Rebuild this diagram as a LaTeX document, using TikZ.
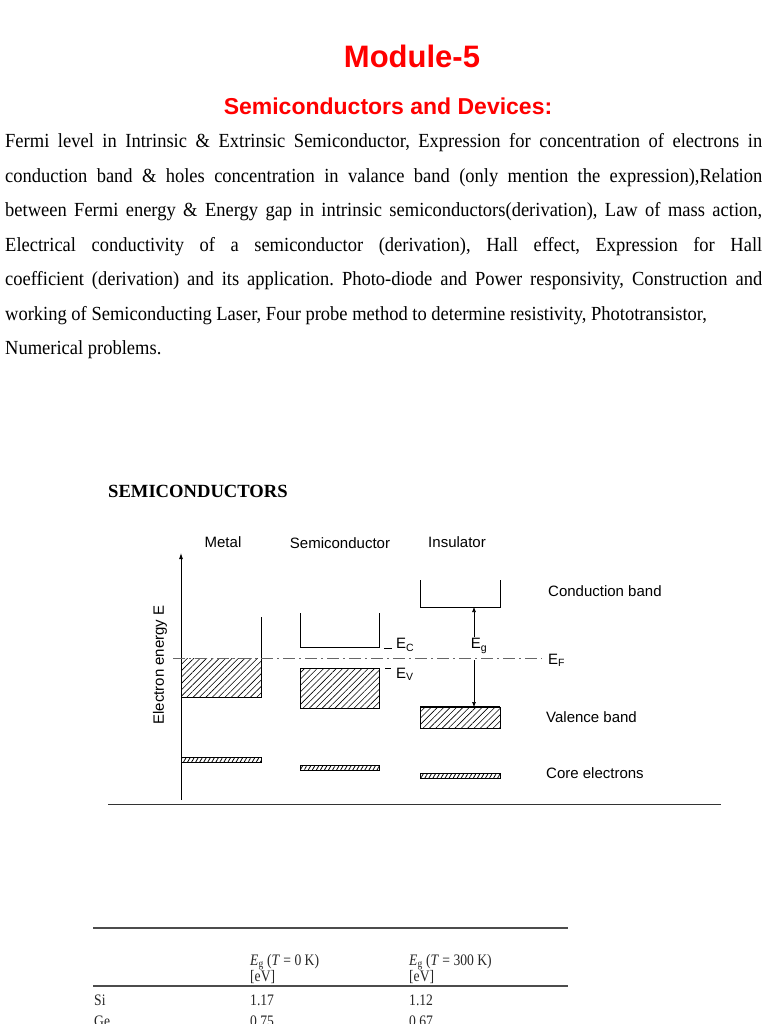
\documentclass[tikz,border=0pt]{standalone}
\usepackage{fontspec}
\setmainfont{Liberation Serif}
\setsansfont{Liberation Sans}
\newfontfamily\bodyfont{Liberation Serif}[FakeStretch=0.925]
\newfontfamily\tabfont{Liberation Serif}[FakeStretch=0.85]
\usetikzlibrary{patterns.meta,arrows.meta}
\definecolor{titlered}{RGB}{255,0,0}
\frenchspacing
\tikzset{
  bodyline/.style={anchor=base west, inner sep=0pt, font=\bodyfont\fontsize{20}{24}\selectfont},
  lbl/.style={font=\sffamily\fontsize{15}{18}\selectfont, inner sep=0pt},
  hatch/.style={pattern={Lines[angle=45,distance=4.5pt,line width=0.6pt]}},
  corehatch/.style={pattern={Lines[angle=60,distance=3.5pt,line width=0.8pt]}, draw, line width=0.7pt},
  band/.style={draw, line width=0.8pt},
  fermi/.style={draw=black!60, line width=0.7pt, dash pattern=on 12pt off 4pt on 2pt off 4pt},
  tabtxt/.style={anchor=base west, inner sep=0pt, font=\tabfont\fontsize{16}{18}\selectfont, text=black!85},
  tabrule/.style={draw=black!70, line width=1.5pt},
  egarrow/.style={-{Latex[length=5pt,width=4pt]}, line width=0.6pt}
}
\begin{document}
\begin{tikzpicture}[x=1pt,y=-1pt]
\clip (0,0) rectangle (768,1024);
\fill[white] (0,0) rectangle (768,1024);

% titles
\node[anchor=base, inner sep=0pt, text=titlered, font=\sffamily\bfseries\fontsize{31}{36}\selectfont] (title) at (412,68) {Module-5};
\node[anchor=base, inner sep=0pt, text=titlered, font=\sffamily\bfseries\fontsize{23}{27}\selectfont] (subtitle) at (388,115) {Semiconductors and Devices:};

% body text
\node[bodyline] (l1) at (5,148) {\makebox[757pt][s]{Fermi level in Intrinsic \& Extrinsic Semiconductor, Expression for concentration of electrons in}};
\node[bodyline] (l2) at (5,182.4) {\makebox[757pt][s]{conduction band \& holes concentration in valance band (only mention the expression),Relation}};
\node[bodyline] (l3) at (5,216.8) {\makebox[757pt][s]{between Fermi energy \& Energy gap in intrinsic semiconductors(derivation), Law of mass action,}};
\node[bodyline] (l4) at (5,251.2) {\makebox[757pt][s]{Electrical conductivity of a semiconductor (derivation), Hall effect, Expression for Hall}};
\node[bodyline] (l5) at (5,285.6) {\makebox[757pt][s]{coefficient (derivation) and its application. Photo-diode and Power responsivity, Construction and}};
\node[bodyline] (l6) at (5,320) {working of Semiconducting Laser, Four probe method to determine resistivity, Phototransistor,};
\node[bodyline] (l7) at (5,354.4) {Numerical problems.};

% diagram heading
\node[anchor=base west, inner sep=0pt, font=\bfseries\fontsize{18.6}{21}\selectfont] (semihead) at (108,497) {SEMICONDUCTORS};
\node[lbl] (metal) at (223,542) {Metal};
\node[lbl] (semi) at (340,543) {Semiconductor};
\node[lbl] (insul) at (457,542) {Insulator};

% axis
\coordinate (axbot) at (181,800);
\coordinate (axtop) at (181,553);
\draw[-{Latex[length=6pt,width=4pt]}, line width=0.8pt] (axbot) -- (axtop);
\node[lbl, rotate=90] (elen) at (160,665) {Electron energy E};

% metal
\fill[hatch] (181,658) rectangle (261,697);
\draw[band] (181,697) -- (261,697) -- (261,617);
\draw[corehatch] (181,757) rectangle (261,762);

% Fermi level
\coordinate (fl) at (173,658);
\coordinate (fr) at (542,658);
\draw[fermi] (fl) -- (fr);
\node[lbl, anchor=west] (ef) at (548,660) {E\textsubscript{F}};

% semiconductor
\draw[band] (300,613) -- (300,647) -- (379,647) -- (379,613);
\draw[band, hatch] (300,668) rectangle (379,708);
\draw[corehatch] (300,765) rectangle (379,770);
\draw[line width=0.8pt] (384,648) -- (392,648);
\draw[line width=0.8pt] (385,668) -- (391,668);
\node[lbl, anchor=west] (ec) at (396,645) {E\textsubscript{C}};
\node[lbl, anchor=west] (ev) at (396,674) {E\textsubscript{V}};

% insulator
\draw[band] (420,580) -- (420,607) -- (500,607) -- (500,580);
\draw[band, hatch] (420,707) rectangle (500,728);
\draw[line width=1.6pt] (420,707) -- (500,707);
\draw[corehatch] (420,773) rectangle (500,778);
\node[lbl] (eg) at (479,646) {E\textsubscript{g}};
\coordinate (cbb) at (474,607);
\coordinate (vbt) at (474,707);
\draw[egarrow] (474,637) -- (cbb);
\draw[egarrow] (474,660) -- (vbt);

% right labels
\node[lbl, anchor=west] (cb) at (548,591) {Conduction band};
\node[lbl, anchor=west] (vb) at (546,717) {Valence band};
\node[lbl, anchor=west] (ce) at (546,773) {Core electrons};

\coordinate (bl) at (108,804);
\coordinate (br) at (721,804);
\draw[line width=0.9pt, black!80] (bl) -- (br);

% table
\coordinate (r1l) at (93,928);
\coordinate (r1r) at (568,928);
\coordinate (r2l) at (93,986);
\coordinate (r2r) at (568,986);
\draw[tabrule] (r1l) -- (r1r);
\draw[tabrule] (r2l) -- (r2r);
\node[tabtxt] (h1) at (250,965) {\textit{E}\textsubscript{g} (\textit{T} = 0 K)};
\node[tabtxt] (h1u) at (250,981) {[eV]};
\node[tabtxt] (h2) at (409,965) {\textit{E}\textsubscript{g} (\textit{T} = 300 K)};
\node[tabtxt] (h2u) at (409,981) {[eV]};
\node[tabtxt] (si) at (94,1005) {Si};
\node[tabtxt] (si1) at (250,1005) {1.17};
\node[tabtxt] (si2) at (409,1005) {1.12};
\node[tabtxt] (ge) at (94,1026) {Ge};
\node[tabtxt] (ge1) at (250,1026) {0.75};
\node[tabtxt] (ge2) at (409,1026) {0.67};
\end{tikzpicture}
\end{document}
